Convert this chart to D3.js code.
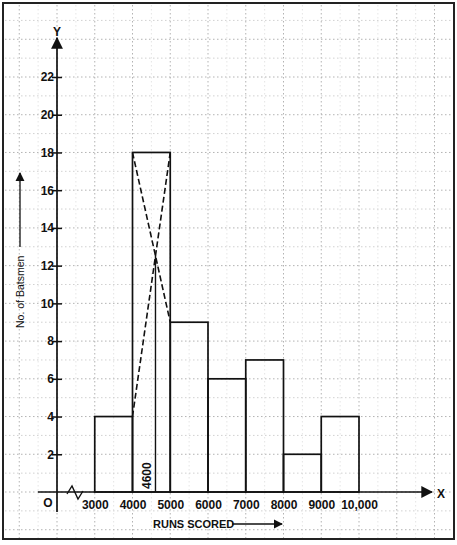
<!DOCTYPE html>
<html>
<head>
<meta charset="utf-8">
<script src="https://cdn.jsdelivr.net/npm/d3@7"></script>
<style>
  body { margin: 0; background: #fff; }
  svg text { font-family: "Liberation Sans Narrow", "Liberation Sans", Arial, sans-serif; fill: #111; }
</style>
</head>
<body>
<svg id="chart" width="457" height="545"></svg>
<script>
// data
var binStart = [3000, 4000, 5000, 6000, 7000, 8000, 9000];
var binEnd = [4000, 5000, 6000, 7000, 8000, 9000, 10000];
var batsmen = [4, 18, 9, 6, 7, 2, 4];
var xTicks = [3000, 4000, 5000, 6000, 7000, 8000, 9000, 10000];
var xTickLabels = ["3000", "4000", "5000", "6000", "7000", "8000", "9000", "10,000"];
var yTicks = [2, 4, 6, 8, 10, 12, 14, 16, 18, 20, 22];
var modeLabel = "4600";

var svg = d3.select("#chart");

// origin sits at 2000 because of the axis break
var xScale = d3.scaleLinear().domain([2000, 10000]).range([57, 359]);
var yScale = d3.scaleLinear().domain([0, 22]).range([492, 77]);

// graph-paper grid (faint dotted)
var gridXMajor = d3.range(1000, 13000, 1000);
var gridXMinor = d3.range(1500, 12000, 1000);
var gridY = d3.range(-2, 26);
var grid = svg.append("g").attr("stroke-dasharray", "1.5,2.5");
grid.selectAll(".gm").data(gridXMinor).enter().append("line")
    .attr("x1", function (d) { return xScale(d); })
    .attr("x2", function (d) { return xScale(d); })
    .attr("y1", 5).attr("y2", 538)
    .attr("stroke", "#dedede").attr("stroke-width", 0.8);
grid.selectAll(".gx").data(gridXMajor).enter().append("line")
    .attr("x1", function (d) { return xScale(d); })
    .attr("x2", function (d) { return xScale(d); })
    .attr("y1", 5).attr("y2", 538)
    .attr("stroke", "#aaa").attr("stroke-width", 0.9);
grid.selectAll(".gy").data(gridY).enter().append("line")
    .attr("y1", function (d) { return yScale(d); })
    .attr("y2", function (d) { return yScale(d); })
    .attr("x1", 5).attr("x2", 452)
    .attr("stroke", function (d) { return d % 2 === 0 ? "#aaa" : "#cccccc"; })
    .attr("stroke-width", 0.9);

// bars
svg.append("g").selectAll("rect")
    .data(batsmen)
    .enter()
    .append("rect")
    .attr("x", function (d, i) { return xScale(binStart[i]); })
    .attr("y", function (d) { return yScale(d); })
    .attr("width", function (d, i) { return xScale(binEnd[i]) - xScale(binStart[i]); })
    .attr("height", function (d) { return yScale(0) - yScale(d); })
    .attr("fill", "none")
    .attr("stroke", "#111")
    .attr("stroke-width", 1.7);

// mode construction: crossing lines in the modal bar
var m = batsmen.indexOf(d3.max(batsmen));
var x1 = binStart[m], x2 = binEnd[m];
var fm = batsmen[m], fPrev = batsmen[m - 1], fNext = batsmen[m + 1];
var t = (fm - fPrev) / ((fm - fPrev) + (fm - fNext));
var ix = x1 + t * (x2 - x1);
var iy = fm - t * (fm - fNext);

svg.append("line")
    .attr("x1", xScale(x1)).attr("y1", yScale(fm))
    .attr("x2", xScale(x2)).attr("y2", yScale(fNext))
    .attr("stroke", "#111").attr("stroke-width", 1.6).attr("stroke-dasharray", "6,3");
svg.append("line")
    .attr("x1", xScale(x1)).attr("y1", yScale(fPrev))
    .attr("x2", xScale(x2)).attr("y2", yScale(fm))
    .attr("stroke", "#111").attr("stroke-width", 1.6).attr("stroke-dasharray", "6,3");
svg.append("line")
    .attr("x1", xScale(ix)).attr("y1", yScale(iy))
    .attr("x2", xScale(ix)).attr("y2", yScale(0))
    .attr("stroke", "#111").attr("stroke-width", 1.4);
svg.append("text")
    .attr("transform", "translate(" + (xScale(ix) - 4) + "," + (yScale(0) - 3) + ") rotate(-90)")
    .attr("font-size", 12).attr("font-weight", "bold")
    .text(modeLabel);

// arrow marker
svg.append("defs").append("marker")
    .attr("id", "arr").attr("viewBox", "0 0 10 10")
    .attr("refX", 9).attr("refY", 5)
    .attr("markerWidth", 7).attr("markerHeight", 7)
    .attr("orient", "auto-start-reverse")
    .append("path").attr("d", "M0,0 L10,5 L0,10 Z").attr("fill", "#111");

// axes
svg.append("line")
    .attr("x1", 38).attr("y1", yScale(0)).attr("x2", 432).attr("y2", yScale(0))
    .attr("stroke", "#111").attr("stroke-width", 1.7).attr("marker-end", "url(#arr)");
svg.append("line")
    .attr("x1", xScale(2000)).attr("y1", 512).attr("x2", xScale(2000)).attr("y2", 38)
    .attr("stroke", "#111").attr("stroke-width", 1.7).attr("marker-end", "url(#arr)");

var yAxis = d3.axisLeft(yScale).tickValues(yTicks).tickSize(10).tickSizeOuter(0);
var yg = svg.append("g")
    .attr("transform", "translate(" + (xScale(2000) + 5) + ",0)")
    .call(yAxis);
yg.select(".domain").remove();
yg.selectAll(".tick line").attr("stroke", "#111").attr("stroke-width", 1.5);
yg.selectAll(".tick text")
    .attr("font-size", 12).attr("font-weight", "bold")
    .attr("font-family", "Liberation Sans Narrow, Arial, sans-serif")
    .attr("x", -8).attr("fill", "#111");

var xAxis = d3.axisBottom(xScale).tickValues(xTicks).tickSize(0)
    .tickFormat(function (d, i) { return xTickLabels[i]; });
var xg = svg.append("g")
    .attr("transform", "translate(0," + yScale(0) + ")")
    .call(xAxis);
xg.select(".domain").remove();
xg.selectAll(".tick text")
    .attr("font-size", 12).attr("font-weight", "bold")
    .attr("font-family", "Liberation Sans Narrow, Arial, sans-serif")
    .attr("y", 8).attr("fill", "#111");

// axis break zigzag
svg.append("path")
    .attr("d", "M67,494 L72,486 L78,499 L83,491")
    .attr("fill", "none").attr("stroke", "#111").attr("stroke-width", 1.4);

// labels
svg.append("text").attr("x", 48).attr("y", 507).attr("font-size", 12)
    .attr("font-weight", "bold").attr("text-anchor", "middle").text("O");
svg.append("text").attr("x", 441).attr("y", 498).attr("font-size", 12)
    .attr("font-weight", "bold").attr("text-anchor", "middle").text("X");
svg.append("text").attr("x", xScale(2000)).attr("y", 36).attr("font-size", 12)
    .attr("font-weight", "bold").attr("text-anchor", "middle").text("Y");

svg.append("text").attr("x", 153).attr("y", 528).attr("font-size", 11)
    .attr("font-weight", "bold").text("RUNS SCORED");
svg.append("line").attr("x1", 232).attr("y1", 524).attr("x2", 282).attr("y2", 524)
    .attr("stroke", "#111").attr("stroke-width", 1.3).attr("marker-end", "url(#arr)");

svg.append("text")
    .attr("transform", "translate(24,328) rotate(-90)")
    .attr("font-size", 10.5).text("No. of Batsmen");
svg.append("line").attr("x1", 20).attr("y1", 247).attr("x2", 20).attr("y2", 173)
    .attr("stroke", "#111").attr("stroke-width", 1.3).attr("marker-end", "url(#arr)");

// frame
svg.append("rect").attr("x", 3).attr("y", 3).attr("width", 451).attr("height", 536)
    .attr("fill", "none").attr("stroke", "#222").attr("stroke-width", 2);
</script>
</body>
</html>
